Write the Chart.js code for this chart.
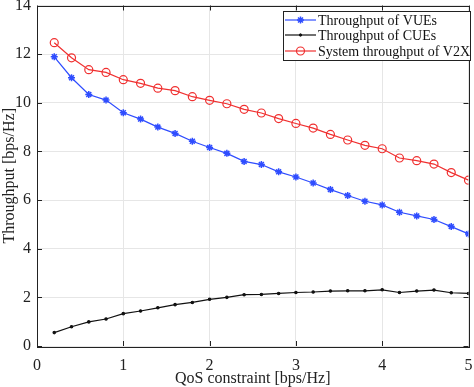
<!DOCTYPE html>
<html>
<head>
<meta charset="utf-8">
<script src="https://cdn.jsdelivr.net/npm/chart.js@4/dist/chart.umd.min.js"></script>
<style>
  html, body { margin: 0; padding: 0; background: #fff; }
  #wrap { width: 474px; height: 387px; }
</style>
</head>
<body>
<div id="wrap"><canvas id="myChart" width="474" height="387"></canvas></div>
<script>
// QoS constraint values (x)
let qos = [0.2, 0.4, 0.6, 0.8, 1.0, 1.2, 1.4, 1.6, 1.8, 2.0, 2.2, 2.4, 2.6,
           2.8, 3.0, 3.2, 3.4, 3.6, 3.8, 4.0, 4.2, 4.4, 4.6, 4.8, 5.0];
let vueThroughput = [11.89, 11.03, 10.34, 10.11, 9.59, 9.33, 9.0, 8.74, 8.42, 8.16, 7.92, 7.59, 7.46,
                     7.16, 6.95, 6.70, 6.43, 6.19, 5.95, 5.80, 5.50, 5.35, 5.20, 4.91, 4.61];
let cueThroughput = [0.55, 0.79, 0.99, 1.11, 1.33, 1.44, 1.57, 1.70, 1.79, 1.92, 2.0, 2.11, 2.12,
                     2.16, 2.20, 2.22, 2.26, 2.27, 2.27, 2.31, 2.20, 2.26, 2.30, 2.19, 2.16];
let sysThroughput = [12.47, 11.85, 11.36, 11.25, 10.95, 10.8, 10.6, 10.5, 10.25, 10.1, 9.96, 9.73, 9.58,
                     9.35, 9.15, 8.96, 8.70, 8.47, 8.25, 8.11, 7.73, 7.62, 7.48, 7.13, 6.82];
let seriesNames = ['Throughput of VUEs', 'Throughput of CUEs', 'System throughput of V2X'];
let xTicks = [0, 1, 2, 3, 4, 5];
let yTicks = [0, 2, 4, 6, 8, 10, 12, 14];

const FONT = '"Liberation Serif", "Times New Roman", serif';
const BLUE = '#2f4dff';
const RED = '#f03030';

function pts(ys) {
	return qos.map(function(x, i) { return { x: x, y: ys[i] }; });
}

// MATLAB-like frame, inward ticks and legend box
const frame = {
	id: 'frame',
	afterDatasetsDraw(chart) {
		const c = chart.ctx, a = chart.chartArea;
		const xs = chart.scales.x, ys = chart.scales.y;
		c.save();
		c.strokeStyle = '#222';
		c.lineWidth = 1;
		c.beginPath();
		xTicks.forEach(function(v) {
			const px = Math.round(xs.getPixelForValue(v)) + 0.5;
			c.moveTo(px, a.bottom); c.lineTo(px, a.bottom - 5);
			c.moveTo(px, a.top); c.lineTo(px, a.top + 5);
		});
		yTicks.forEach(function(v) {
			const py = Math.round(ys.getPixelForValue(v)) + 0.5;
			c.moveTo(a.left, py); c.lineTo(a.left + 5, py);
			c.moveTo(a.right, py); c.lineTo(a.right - 5, py);
		});
		c.stroke();
		c.strokeRect(Math.round(a.left) + 0.5, Math.round(a.top) + 0.5,
			Math.round(a.right - a.left), Math.round(a.bottom - a.top));

		// legend
		const bx = 283.5, by = 11.5, bw = 187, bh = 49;
		c.fillStyle = '#fff';
		c.fillRect(bx, by, bw, bh);
		c.strokeRect(bx, by, bw, bh);
		const rows = [20, 35, 51];
		const ds = chart.data.datasets;
		c.textBaseline = 'middle';
		rows.forEach(function(ry, i) {
			const d = ds[i];
			c.strokeStyle = d.borderColor;
			c.fillStyle = d.backgroundColor;
			c.lineWidth = 1.2;
			c.beginPath(); c.moveTo(285, ry); c.lineTo(316, ry); c.stroke();
			c.lineWidth = d.pointBorderWidth || 1;
			Chart.helpers.drawPoint(c, {
				pointStyle: d.pointStyle, radius: d.pointRadius, rotation: 0,
				borderWidth: d.pointBorderWidth || 1
			}, 300.5, ry);
			c.fillStyle = '#111';
			c.font = '14px ' + FONT;
			c.fillText(seriesNames[i], 318, ry + 1);
		});
		c.restore();
	}
};

let config = {
	type: 'line',
	data: {
		datasets: [{
			label: seriesNames[0],
			data: pts(vueThroughput),
			borderColor: BLUE,
			backgroundColor: BLUE,
			pointStyle: 'star',
			pointRadius: 3.5,
			pointBorderWidth: 1.5,
			borderWidth: 1.2
		}, {
			label: seriesNames[1],
			data: pts(cueThroughput),
			borderColor: '#111',
			backgroundColor: '#111',
			pointStyle: 'circle',
			pointRadius: 1.2,
			borderWidth: 1.2
		}, {
			label: seriesNames[2],
			data: pts(sysThroughput),
			borderColor: RED,
			backgroundColor: 'rgba(0,0,0,0)',
			pointStyle: 'circle',
			pointRadius: 4,
			pointBorderWidth: 1.2,
			borderWidth: 1.2
		}]
	},
	options: {
		responsive: false,
		animation: false,
		layout: { padding: { top: 5, right: 3, left: 0, bottom: 0 } },
		plugins: {
			legend: { display: false },
			tooltip: { enabled: false }
		},
		scales: {
			x: {
				type: 'linear', min: 0, max: 5,
				afterBuildTicks: function(s) { s.ticks = xTicks.map(function(v) { return { value: v }; }); },
				afterFit: function(s) { s.height = 41; s.paddingLeft = 0; s.paddingRight = 0; },
				grid: { color: '#e6e6e6', drawTicks: false },
				border: { display: false },
				ticks: { color: '#222', padding: 10, font: { family: FONT, size: 16 } },
				title: { display: true, text: 'QoS constraint [bps/Hz]', color: '#222',
					padding: { top: 0, bottom: -1 }, font: { family: FONT, size: 16 } }
			},
			y: {
				min: 0, max: 14,
				afterBuildTicks: function(s) { s.ticks = yTicks.map(function(v) { return { value: v }; }); },
				afterFit: function(s) { s.width = 37; s.paddingTop = 0; s.paddingBottom = 0; },
				grid: { color: '#e6e6e6', drawTicks: false },
				border: { display: false },
				ticks: { color: '#222', padding: 6, font: { family: FONT, size: 16 } },
				title: { display: true, text: 'Throughput [bps/Hz]', color: '#222',
					padding: { top: 0, bottom: 0 }, font: { family: FONT, size: 16 } }
			}
		}
	},
	plugins: [frame]
};

let chart = new Chart('myChart', config);
</script>
</body>
</html>
